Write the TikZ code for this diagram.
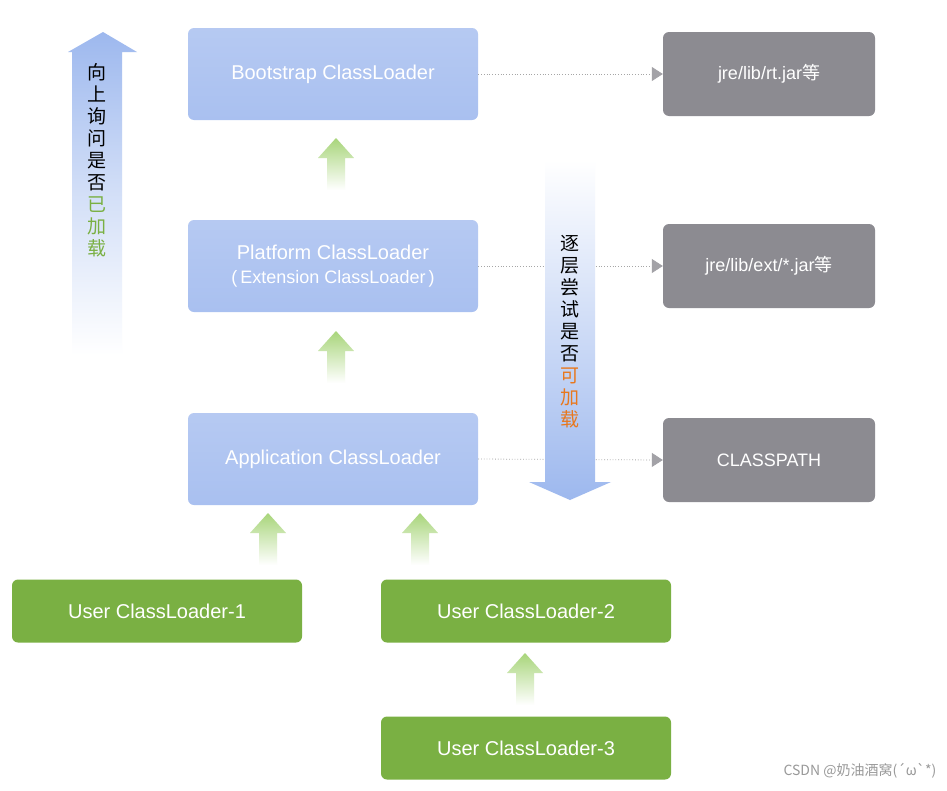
\documentclass[tikz,border=0pt]{standalone}
\usepackage{fontspec}
\setmainfont{Liberation Sans}
\newfontfamily\cjk{Noto Sans CJK SC}
\usetikzlibrary{arrows.meta}
\definecolor{bluebox}{HTML}{A9C0F0}
\definecolor{greybox}{HTML}{8C8B91}
\definecolor{greenbox}{HTML}{7AB043}
\definecolor{arrgreen}{HTML}{A8D57A}
\definecolor{bigblue}{HTML}{9DB8EE}
\definecolor{orangetxt}{HTML}{E8781E}
\begin{document}
\begin{tikzpicture}[x=1pt,y=-1pt,
  blue/.style={draw=none,rounded corners=6pt,top color=bluebox!85,bottom color=bluebox,minimum width=290pt,minimum height=92pt,text=white,font=\fontsize{20}{22}\selectfont,align=center},
  grey/.style={draw=none,rounded corners=6pt,fill=greybox,minimum width=212pt,minimum height=84pt,text=white,font=\fontsize{18}{20}\selectfont},
  green/.style={draw=none,rounded corners=6pt,fill=greenbox,minimum width=290pt,minimum height=63pt,text=white,font=\fontsize{20}{22}\selectfont},
  dotarr/.style={draw=gray!70,dotted,thick,-{Triangle[length=11pt,width=14pt,fill=greybox!80,color=greybox!80]}},
  vtext/.style={font=\cjk\fontsize{19}{22}\selectfont,align=center}]
\useasboundingbox (0,0) rectangle (947,790);
\fill[white] (0,0) rectangle (947,790);
\node[blue] (boot) at (333,74) {Bootstrap ClassLoader};
\node[blue] (plat) at (333,266) {Platform ClassLoader\\[2pt]{\fontsize{18}{20}\selectfont(\,Extension ClassLoader\,)}};
\node[blue] (app) at (333,459) {Application ClassLoader};
\node[grey] (g1) at (769,74) {jre/lib/rt.jar{\cjk 等}};
\node[grey] (g2) at (769,266) {jre/lib/ext/*.jar{\cjk 等}};
\node[grey] (g3) at (769,460) {CLASSPATH};
\node[green] (u1) at (157,611) {User ClassLoader-1};
\node[green] (u2) at (526,611) {User ClassLoader-2};
\node[green] (u3) at (526,748) {User ClassLoader-3};
\draw[dotarr] (boot.east) -- (g1.west);
\draw[dotarr] (plat.east) -- (g2.west);
\draw[dotarr] (app.east) -- (g3.west);
% small up arrows
\foreach \n/\cx/\ty in {a1/336/138,a2/336/331,a3/268/513,a4/420/513,a5/525/653}{
  \shade[top color=arrgreen,bottom color=white]
    (\cx,\ty) -- (\cx+18,\ty+20) -- (\cx+9,\ty+20) -- (\cx+9,\ty+52) -- (\cx-9,\ty+52) -- (\cx-9,\ty+20) -- (\cx-18,\ty+20) -- cycle;
}
% big left arrow
\shade[top color=bigblue,bottom color=white,middle color=bigblue!45]
  (103,32) -- (137,52) -- (122,52) -- (122,355) -- (72,355) -- (72,52) -- (68,52) -- cycle;
\node[vtext] (lt) at (97,160) {向\\上\\询\\问\\是\\否\\\textcolor{greenbox}{已}\\\textcolor{greenbox}{加}\\\textcolor{greenbox}{载}};
% big middle arrow
\shade[top color=white,bottom color=bigblue,middle color=bigblue!50]
  (545,160) -- (595,160) -- (595,482) -- (611,482) -- (570,500) -- (529,482) -- (545,482) -- cycle;
\node[vtext] (mt) at (570,332) {逐\\层\\尝\\试\\是\\否\\\textcolor{orangetxt}{可}\\\textcolor{orangetxt}{加}\\\textcolor{orangetxt}{载}};
\node[font=\cjk\fontsize{14}{16}\selectfont,text=gray!80,anchor=east] (wm) at (940,771) {CSDN @奶油酒窝(´ω`*)};
\end{tikzpicture}
\end{document}
